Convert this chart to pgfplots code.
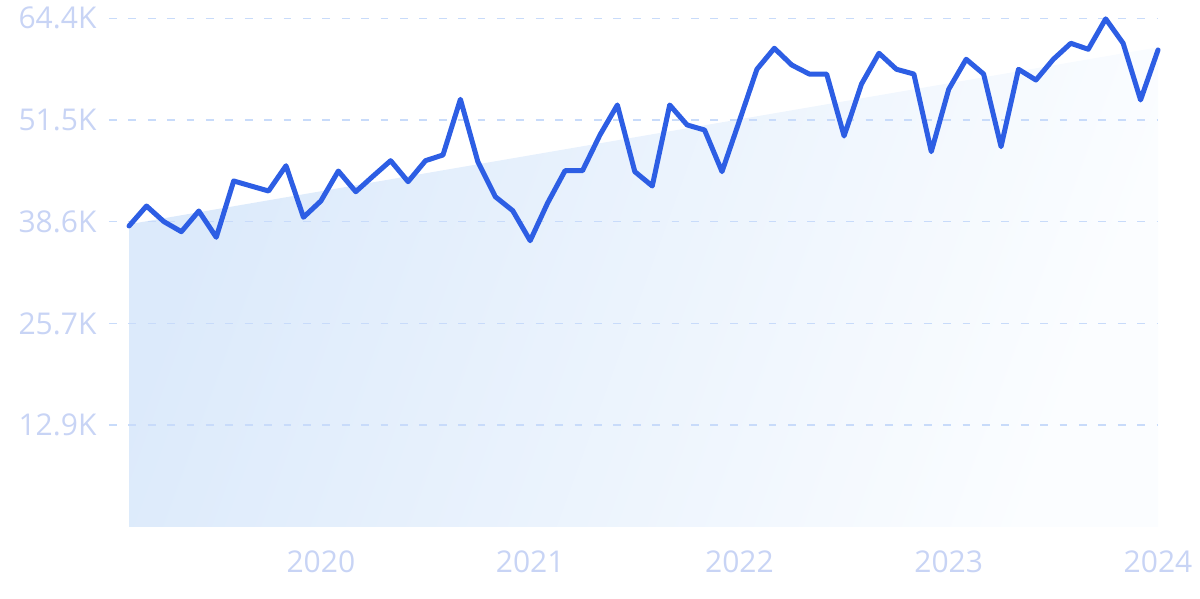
\documentclass[border=0pt]{standalone}
\usepackage{fontspec}
\setmainfont{Open Sans}
\usepackage{pgfplots}
\pgfplotsset{compat=1.18}
\definecolor{lineblue}{RGB}{45,94,228}
\definecolor{gridblue}{RGB}{200,219,250}
\definecolor{labelblue}{RGB}{200,212,245}
\definecolor{areaA}{RGB}{220,234,251}
\definecolor{areaB}{RGB}{251,253,255}
\begin{document}
\begin{tikzpicture}
\begin{axis}[
  set layers=standard,
  width=524.5pt, height=254.25pt, scale only axis,
  xmin=-1.15, xmax=59, ymin=0, ymax=64.375,
  clip=false,
  axis line style={draw=none},
  major tick length=0pt,
  xtick={11,23,35,47,59},
  xticklabels={2020,2021,2022,2023,2024},
  ytick={12.875,25.75,38.625,51.5,64.375},
  yticklabels={12.9K,25.7K,38.6K,51.5K,64.4K},
  ymajorgrids,
  grid style={gridblue, line width=0.65pt, dash pattern=on 3.9pt off 5.8pt},
  tick label style={font=\fontsize{15}{18}\selectfont, text=labelblue},
  xticklabel style={anchor=north, inner sep=0pt, yshift=-12pt},
  yticklabel style={anchor=east, inner sep=0pt, xshift=-6.1pt},
]
\addplot[on layer=axis background, draw=none, left color=areaA, right color=areaB, shading angle=70]
  coordinates {(0,38.3) (59,60.7)} \closedcycle;
\addplot[lineblue, line width=2.5pt, line join=round, line cap=round, mark=none]
  coordinates {
(0,38.08) (1,40.61) (2,38.63) (3,37.36) (4,39.98) (5,36.65) (6,43.78) (7,43.14)
(8,42.51) (9,45.71) (10,39.18) (11,41.25) (12,45.04) (13,42.42) (14,44.41) (15,46.35)
(16,43.69) (17,46.35) (18,47.07) (19,54.12) (20,46.22) (21,41.79) (22,40.02) (23,36.22)
(24,40.99) (25,45.08) (26,45.08) (27,49.60) (28,53.40) (29,44.96) (30,43.14) (31,53.40)
(32,50.87) (33,50.23) (34,44.96) (35,51.41) (36,57.92) (37,60.58) (38,58.46) (39,57.32)
(40,57.32) (41,49.47) (42,56.06) (43,59.95) (44,57.92) (45,57.32) (46,47.49) (47,55.39)
(48,59.19) (49,57.32) (50,48.12) (51,57.92) (52,56.56) (53,59.19) (54,61.21) (55,60.45)
(56,64.30) (57,61.21) (58,54.03) (59,60.36)
  };
\end{axis}
\pgfresetboundingbox
\path[use as bounding box] (-54.5pt,-36.1pt) rectangle (545.5pt,263.4pt);
\end{tikzpicture}
\end{document}
